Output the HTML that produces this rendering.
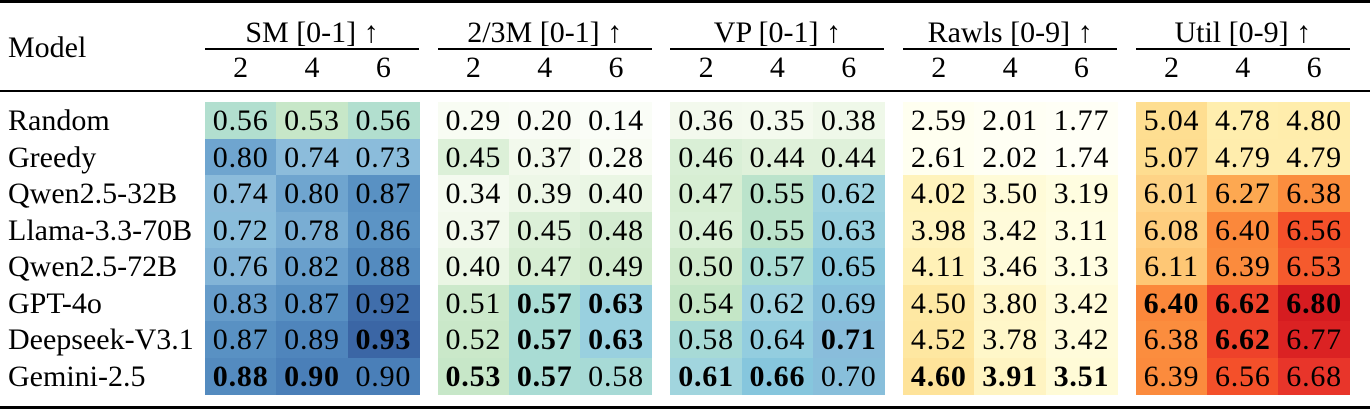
<!DOCTYPE html>
<html><head><meta charset="utf-8">
<style>
html,body{margin:0;padding:0;background:#fff;}
#root{position:relative;width:1370px;height:413px;overflow:hidden;font-family:"Liberation Serif",serif;color:#000;}
.t{position:absolute;font-size:30px;line-height:30px;white-space:nowrap;transform:translate(-50%,-50%);}
.n{letter-spacing:0.8px;}
.l{position:absolute;font-size:30px;line-height:30px;white-space:nowrap;transform:translateY(-50%);}
.cell{position:absolute;}
.rule{position:absolute;background:#000;}
</style></head>
<body>
<div id="root">
  <div class="rule" style="left:0;top:0;width:1370px;height:3px"></div>
  <div class="rule" style="left:0;top:90px;width:1370px;height:2px"></div>
  <div class="rule" style="left:0;top:406px;width:1370px;height:3px"></div>
  <div class="l" style="left:8px;top:48px">Model</div>
</div>
<script>
const models = ["Random","Greedy","Qwen2.5-32B","Llama-3.3-70B","Qwen2.5-72B","GPT-4o","Deepseek-V3.1","Gemini-2.5"];
const groups = ["SM [0-1] \u2191","2/3M [0-1] \u2191","VP [0-1] \u2191","Rawls [0-9] \u2191","Util [0-9] \u2191"];
const subLabels = ["2","4","6"];
const smVals = [[0.56,0.53,0.56],[0.80,0.74,0.73],[0.74,0.80,0.87],[0.72,0.78,0.86],[0.76,0.82,0.88],[0.83,0.87,0.92],[0.87,0.89,0.93],[0.88,0.90,0.90]];
const m23Vals = [[0.29,0.20,0.14],[0.45,0.37,0.28],[0.34,0.39,0.40],[0.37,0.45,0.48],[0.40,0.47,0.49],[0.51,0.57,0.63],[0.52,0.57,0.63],[0.53,0.57,0.58]];
const vpVals = [[0.36,0.35,0.38],[0.46,0.44,0.44],[0.47,0.55,0.62],[0.46,0.55,0.63],[0.50,0.57,0.65],[0.54,0.62,0.69],[0.58,0.64,0.71],[0.61,0.66,0.70]];
const rawlsVals = [[2.59,2.01,1.77],[2.61,2.02,1.74],[4.02,3.50,3.19],[3.98,3.42,3.11],[4.11,3.46,3.13],[4.50,3.80,3.42],[4.52,3.78,3.42],[4.60,3.91,3.51]];
const utilVals = [[5.04,4.78,4.80],[5.07,4.79,4.79],[6.01,6.27,6.38],[6.08,6.40,6.56],[6.11,6.39,6.53],[6.40,6.62,6.80],[6.38,6.62,6.77],[6.39,6.56,6.68]];
const boldCells = [[0,7,0],[0,7,1],[0,6,2],[1,7,0],[1,5,1],[1,6,1],[1,7,1],[1,5,2],[1,6,2],[2,7,0],[2,7,1],[2,6,2],[3,7,0],[3,7,1],[3,7,2],[4,5,0],[4,5,1],[4,6,1],[4,5,2]];

const scaleProb = [[0.10,"#fbfdf8"],[0.29,"#f8fcf3"],[0.37,"#f2f9ec"],[0.40,"#eaf6e4"],[0.45,"#dcf0d8"],[0.50,"#cfeacc"],[0.54,"#c4e6c6"],[0.57,"#a9dcd4"],[0.62,"#9fd3e0"],[0.66,"#86c6dd"],[0.71,"#89bddb"],[0.74,"#8cbcdb"],[0.80,"#6fa5cf"],[0.87,"#5991c3"],[0.90,"#4a7fb8"],[0.93,"#3b66a5"]];
const scaleRawls = [[1.7,"#fffff6"],[2.6,"#fffff0"],[3.1,"#fffde2"],[3.5,"#fffbd8"],[4.0,"#fff3bd"],[4.5,"#fee8a3"],[4.6,"#fee39a"]];
const scaleUtil = [[4.78,"#ffeeae"],[5.05,"#fedd90"],[6.05,"#fed386"],[6.2,"#fdb55c"],[6.3,"#fda34c"],[6.4,"#fb883b"],[6.56,"#f4502a"],[6.7,"#e6302a"],[6.8,"#d61c20"]];
const groupScales = [scaleProb, scaleProb, scaleProb, scaleRawls, scaleUtil];
const groupData = [smVals, m23Vals, vpVals, rawlsVals, utilVals];

function hex(c){return [1,3,5].map(i=>parseInt(c.substr(i,2),16));}
function colorFor(scale,v){
  if(v<=scale[0][0]) return scale[0][1];
  for(let i=1;i<scale.length;i++){
    if(v<=scale[i][0]){
      const a=scale[i-1],b=scale[i];const t=(v-a[0])/(b[0]-a[0]);
      const ca=hex(a[1]),cb=hex(b[1]);
      return "rgb("+ca.map((x,k)=>Math.round(x+(cb[k]-x)*t)).join(",")+")";
    }
  }
  return scale[scale.length-1][1];
}
const gx0=205, gStep=232.7, gW=214, cW=gW/3, rowTop=102, rowH=36.5;
function xCell(g,c){return gx0+g*gStep+c*cW;}
function yRow(r){return rowTop+r*rowH;}
const root=document.getElementById('root');
function isBold(g,r,c){return boldCells.some(b=>b[0]===g&&b[1]===r&&b[2]===c);}

groups.forEach((name,g)=>{
  const t=document.createElement('div');t.className='t';
  
  
  t.style.left=(xCell(g,0)+gW/2)+'px';t.style.top='33px';t.textContent=name;root.appendChild(t);
  const ln=document.createElement('div');ln.className='rule';
  
  
  ln.style.left=xCell(g,0)+'px';ln.style.top='48px';ln.style.width=gW+'px';ln.style.height='1.5px';root.appendChild(ln);
  subLabels.forEach((s,c)=>{
    const e=document.createElement('div');e.className='t';
    
    
    e.style.left=(xCell(g,c)+cW/2)+'px';e.style.top='68px';e.textContent=s;root.appendChild(e);
  });
  groupData[g].forEach((row,r)=>{
    row.forEach((v,c)=>{
      const d=document.createElement('div');d.className='cell';
      
      
      d.style.left=xCell(g,c)+'px';d.style.top=yRow(r)+'px';
      d.style.width=(cW+0.6)+'px';d.style.height=(rowH+0.6)+'px';
      d.style.background=colorFor(groupScales[g],v);root.appendChild(d);
      const tx=document.createElement('div');tx.className='t n';
      
      
      tx.style.left=(xCell(g,c)+cW/2)+'px';tx.style.top=(yRow(r)+rowH/2+1)+'px';
      if(isBold(g,r,c)) tx.style.fontWeight='bold';
      tx.textContent=v.toFixed(2);root.appendChild(tx);
    });
  });
});
models.forEach((m,r)=>{
  const e=document.createElement('div');e.className='l';
  
  
  e.style.left='8px';e.style.top=(yRow(r)+rowH/2+1)+'px';e.textContent=m;root.appendChild(e);
});
</script>
</body></html>
